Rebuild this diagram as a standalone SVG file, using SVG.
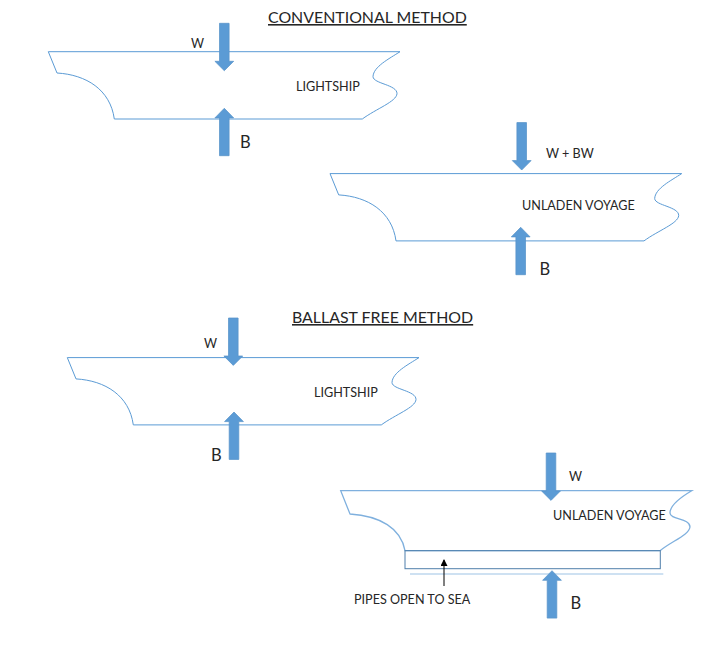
<svg xmlns="http://www.w3.org/2000/svg" width="716" height="656" viewBox="0 0 716 656">
<style>
text{font-family:"Lato","Liberation Sans",sans-serif;fill:#262626}
.t{font-size:15.9px;text-decoration:underline}
.l{font-size:12.6px}
.b{font-size:16.5px}
.hull{fill:none;stroke:#5b9bd5;stroke-width:1}
.hull2{fill:none;stroke:#7fb0de;stroke-width:1.3}
.arr{fill:#5b9bd5;stroke:#5a94c9;stroke-width:.75}
</style>
<defs>
<path id="hull" d="M0 0H351.7C341 7 325 15 324.7 25C325 32 349 33 348.7 42C348 50 328 57 314 67.3H66C62 38 38 23 8.7 21.3Z"/>
<path id="down" d="M-4.8 0H4.8V38H9.4L0 47.4L-9.4 38H-4.8Z"/>
<path id="up" d="M-4.8 47.4H4.8V9.6H9.4L0 0L-9.4 9.6H-4.8Z"/>
<marker id="blk" markerWidth="8" markerHeight="8" refX="6" refY="3.5" orient="auto"><path d="M0 0L7 3.5L0 7Z" fill="#000"/></marker>
</defs>
<text class="t" x="268" y="23">CONVENTIONAL METHOD</text>
<text class="t" x="292" y="323">BALLAST FREE METHOD</text>
<g id="ship-lightship-conventional">
<use href="#hull" class="hull" x="48.3" y="51.7"/>
<text class="l" x="296" y="91">LIGHTSHIP</text>
<text class="l" x="191" y="48">W</text>
<text class="b" x="240" y="148">B</text>
</g>
<g id="ship-unladen-conventional">
<use href="#hull" class="hull" x="330" y="173.6"/>
<text class="l" x="522" y="210">UNLADEN VOYAGE</text>
<text class="l" x="546" y="158">W + BW</text>
<text class="b" x="539.5" y="275">B</text>
</g>
<g id="ship-lightship-ballast-free">
<use href="#hull" class="hull" x="67.3" y="357.6"/>
<text class="l" x="314" y="397">LIGHTSHIP</text>
<text class="l" x="204" y="348">W</text>
<text class="b" x="211" y="461">B</text>
</g>
<g id="ship-unladen-ballast-free">
<path class="hull2" d="M340.7 490.7H691.7C681 497 670 505 670 513C670 520 690 518 690 527C689 535 672 541 660 550.7H405C401 528 380 516 350 514Z"/>
<rect x="405" y="550.7" width="255.3" height="18" fill="none" stroke="#4f7fab" stroke-width="1"/>
<path d="M410 574H663.3" fill="none" stroke="#9dc3e6" stroke-width="1.2"/>
<text class="l" x="553" y="520">UNLADEN VOYAGE</text>
<text class="l" x="569" y="481">W</text>
<text class="l" x="354" y="604">PIPES OPEN TO SEA</text>
<text class="b" x="570.5" y="609">B</text>
</g>
<g id="connectors">
<use href="#down" class="arr" x="224.3" y="23.3"/>
<use href="#up" class="arr" x="224.3" y="108.3"/>
<use href="#down" class="arr" x="521.7" y="122.6"/>
<use href="#up" class="arr" x="520.7" y="227.3"/>
<use href="#down" class="arr" x="233.3" y="318"/>
<use href="#up" class="arr" x="234" y="412"/>
<use href="#down" class="arr" x="551" y="453"/>
<use href="#up" class="arr" x="552" y="570.7"/>
<path d="M444 586V560" fill="none" stroke="#000" stroke-width="1" marker-end="url(#blk)"/>
</g>
</svg>
